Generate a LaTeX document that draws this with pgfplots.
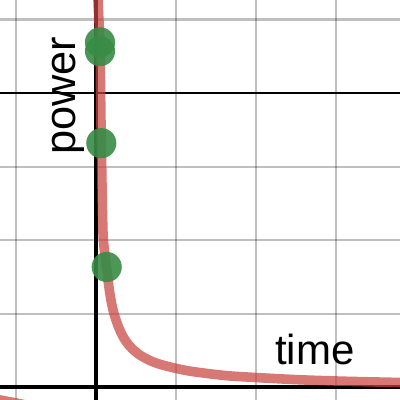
\documentclass[border=0pt]{standalone}
\usepackage{pgfplots}
\pgfplotsset{compat=1.18}
\usepackage{fontspec}
\setmainfont{Liberation Sans}
\definecolor{dred}{HTML}{C74440}
\definecolor{dgreen}{HTML}{388C46}
\begin{document}
\begin{tikzpicture}
\begin{axis}[name=ax, width=300pt, height=300pt, scale only axis,
  xmin=-1.2, xmax=3.8, ymin=-0.17, ymax=5.265,
  axis lines=middle, axis line style={line width=3pt, -},
  xtick={-1,0,1,2,3}, ytick={0,1,2,3,4,5},
  xticklabels={}, yticklabels={}, major tick length=0pt,
  grid=major, grid style={line width=1.6pt, black, opacity=0.25},
  clip=true]
% horizontal black line
\addplot[black, line width=1.9pt] coordinates {(-1.2,4) (3.8,4)};
% curve, right branch
\addplot[dred, draw opacity=0.72, line width=7.2pt, smooth, tension=0.5] coordinates {
(0.022,5.60) (0.025,5.265) (0.038,4.95) (0.050,4.654) (0.058,3.95) (0.066,3.322)
(0.077,2.62) (0.0875,2.10) (0.105,1.86) (0.131,1.637) (0.17,1.30) (0.2125,1.053)
(0.27,0.855) (0.325,0.717) (0.38,0.619) (0.45,0.529) (0.55,0.44) (0.675,0.366)
(0.8,0.315) (0.9875,0.263) (1.2,0.218) (1.6,0.164) (1.925,0.140) (2.5,0.107)
(3.1,0.085) (3.8,0.068)
};
% curve, left branch
\addplot[dred, draw opacity=0.72, line width=7.2pt, smooth] coordinates {
(-1.25,-0.16) (-1.2,-0.17) (-1.0,-0.21) (-0.9,-0.233) (-0.8,-0.26) (-0.7,-0.30) (-0.6,-0.35)
};
% points
\addplot[only marks, mark=*, mark size=11.3pt, color=dgreen, mark options={draw opacity=0, fill opacity=0.9}] coordinates {
(0.05,4.69) (0.05,4.57) (0.066,3.32) (0.134,1.637)
};
\node[anchor=base west, font=\fontsize{31.5}{31.5}\selectfont, inner sep=0pt] at (axis cs:2.2375,0.306) {time};
\node[rotate=90, anchor=base west, font=\fontsize{32.5}{32.5}\selectfont, inner sep=0pt] at (axis cs:-0.2625,3.159) {power};
\end{axis}
\pgfresetboundingbox
\useasboundingbox (ax.south west) rectangle (ax.north east);
\end{tikzpicture}
\end{document}
